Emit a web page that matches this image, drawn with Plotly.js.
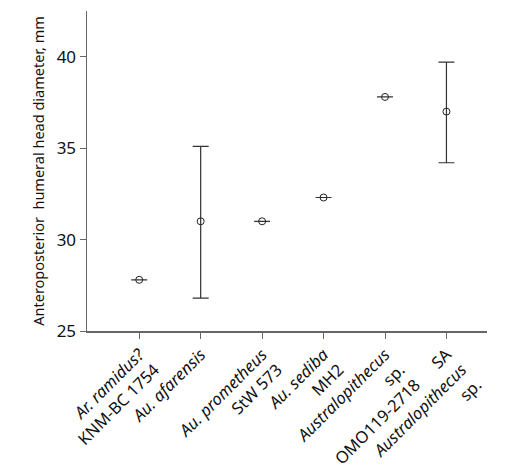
<!DOCTYPE html>
<html>
<head>
<meta charset="utf-8">
<script src="https://cdn.plot.ly/plotly-3.0.1.min.js"></script>
<style>
  html, body { margin: 0; padding: 0; background: #fff; }
  #chart { width: 520px; height: 471px; }
</style>
</head>
<body>
<div id="chart"></div>
<script>
  // specimens along the x axis (italic = taxon name)
  var taxa = [
    '<i>Ar. ramidus?</i><br>KNM-BC 1754',
    '<i>Au. afarensis</i>',
    '<i>Au. prometheus</i><br>StW 573',
    '<i>Au. sediba</i><br>MH2',
    '<i>Australopithecus</i><br>sp.<br>OMO119-2718',
    'SA<br><i>Australopithecus</i><br>sp.'
  ];

  // anteroposterior humeral head diameter, mm
  var diameter = [27.8, 31.0, 31.0, 32.3, 37.8, 37.0];
  var rangeHigh = [27.8, 35.1, 31.0, 32.3, 37.8, 39.7];
  var rangeLow = [27.8, 26.8, 31.0, 32.3, 37.8, 34.2];

  var errPlus = diameter.map(function (d, i) { return rangeHigh[i] - d; });
  var errMinus = diameter.map(function (d, i) { return d - rangeLow[i]; });

  var specimens = {
    x: taxa,
    y: diameter,
    mode: 'markers',
    type: 'scatter',
    marker: {
      symbol: 'circle-open',
      size: 7,
      color: '#222',
      line: { width: 1, color: '#222' }
    },
    error_y: {
      type: 'data',
      symmetric: false,
      array: errPlus,
      arrayminus: errMinus,
      color: '#333',
      thickness: 1.2,
      width: 8
    },
    hoverinfo: 'y'
  };

  var layout = {
    width: 520,
    height: 471,
    margin: { l: 87, r: 33, t: 11, b: 140 },
    paper_bgcolor: '#fff',
    plot_bgcolor: '#fff',
    showlegend: false,
    font: { family: 'Noto Sans, Open Sans, sans-serif', color: '#111', size: 14 },
    xaxis: {
      type: 'category',
      range: [-0.85, 5.66],
      showgrid: false,
      zeroline: false,
      showline: true,
      linecolor: '#666',
      linewidth: 1.5,
      ticks: 'outside',
      ticklen: 6,
      tickcolor: '#666',
      tickangle: -45,
      tickfont: { size: 16.5 }
    },
    yaxis: {
      range: [25, 42.5],
      tickvals: [25, 30, 35, 40],
      showgrid: false,
      zeroline: false,
      showline: true,
      linecolor: '#666',
      linewidth: 1.5,
      ticks: 'outside',
      ticklen: 6,
      tickcolor: '#666',
      tickfont: { size: 17 },
      title: {
        text: 'Anteroposterior  humeral head diameter, mm',
        font: { size: 14.5 },
        standoff: 8
      }
    }
  };

  Plotly.newPlot('chart', [specimens], layout, { displayModeBar: false, staticPlot: true });
</script>
</body>
</html>
